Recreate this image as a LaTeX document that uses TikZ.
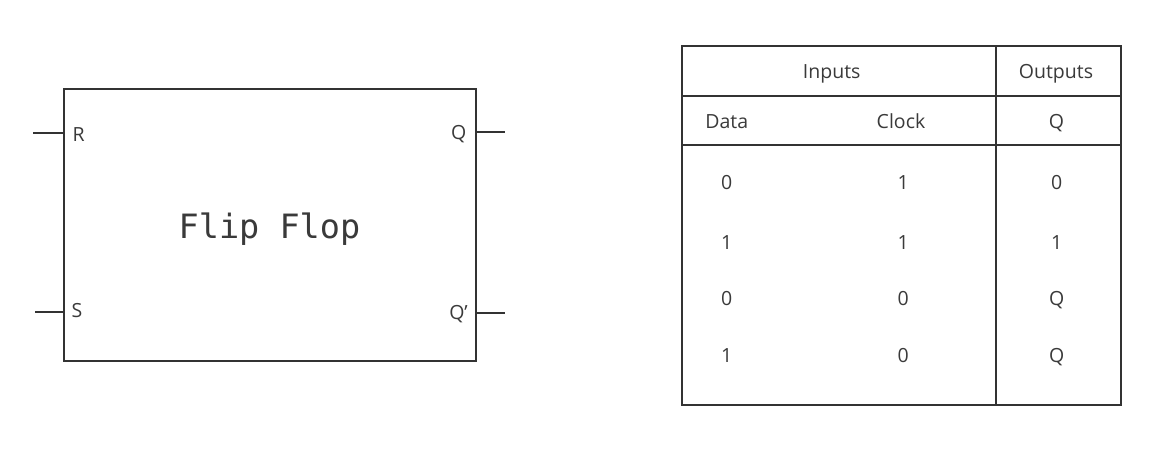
\documentclass[tikz,border=0pt]{standalone}
\usepackage{fontspec}
\setmainfont{Open Sans}
\newfontfamily\ffmono{DejaVu Sans Mono}
\definecolor{ln}{HTML}{333333}
\definecolor{tx}{HTML}{3A3A3A}
\tikzset{
  ln/.style={draw=ln, line width=2pt},
  lbl/.style={inner sep=0pt, text=tx, font=\fontsize{19.5}{21}\selectfont},
  lblb/.style={lbl, anchor=base},
  lbll/.style={lbl, anchor=base west},
  lblr/.style={lbl, anchor=base east},
}
\begin{document}
\begin{tikzpicture}[x=1pt,y=-1pt]
\useasboundingbox (0,0) rectangle (1170,453);
\fill[white] (0,0) rectangle (1170,453);
% flip flop block
\node[ln, rectangle, minimum width=412pt, minimum height=272pt, inner sep=0pt] (ff) at (269.5,225.3) {};
\node[inner sep=0pt, anchor=base, text=tx, font=\ffmono\fontsize{33.5}{36}\selectfont] (fftext) at (269.5,238.3) {Flip Flop};
\coordinate (rin) at (33,133.3);
\coordinate (sin) at (35,311.7);
\coordinate (qout) at (505,131.7);
\coordinate (qbout) at (505,313.3);
\draw[ln] (rin) -- (rin -| ff.west);
\draw[ln] (sin) -- (sin -| ff.west);
\draw[ln] (qout -| ff.east) -- (qout);
\draw[ln] (qbout -| ff.east) -- (qbout);
\node[lbll] (rl) at (72.5,141) {R};
\node[lbll] (sl) at (71.5,317.3) {S};
\node[lblr] (ql) at (466.5,139.3) {Q};
\node[lblr] (qbl) at (468,319.3) {Q\char"0027};
% truth table
\draw[ln] (681.7,45.7) rectangle (1121.3,405);
\draw[ln] (996,45.7) -- (996,405);
\draw[ln] (681.7,96) -- (1121.3,96);
\draw[ln] (681.7,145) -- (1121.3,145);
\node[lblb] (hin) at (831.7,78.3) {Inputs};
\node[lblb] (hout) at (1056,78.3) {Outputs};
\node[lblb] (hd) at (726.7,128) {Data};
\node[lblb] (hc) at (901,128) {Clock};
\node[lblb] (hq) at (1056.5,128) {Q};
\foreach \y/\d/\c/\q [count=\i] in {189.3/0/1/0, 249.3/1/1/1, 305/0/0/Q, 362.7/1/0/Q}{
  \node[lblb] (d\i) at (726.7,\y) {\d};
  \node[lblb] (c\i) at (903.3,\y) {\c};
  \node[lblb] (q\i) at (1056.7,\y) {\q};
}
\end{tikzpicture}
\end{document}
